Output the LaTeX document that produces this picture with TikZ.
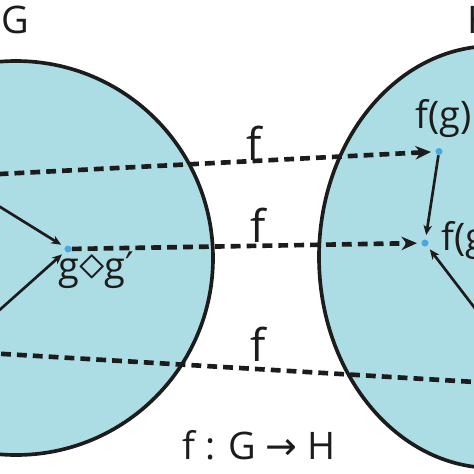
\documentclass[tikz,border=0pt]{standalone}
\usepackage{fontspec}
\setmainfont{Open Sans}
\newfontfamily\dejavu{DejaVu Sans}
\usetikzlibrary{arrows.meta}
\definecolor{diskblue}{HTML}{ACDDE4}
\definecolor{dotblue}{HTML}{4BA8DE}
\definecolor{inkgray}{HTML}{1C1C1C}
\newcommand{\maparrowstyle}{-{Stealth[length=11pt,width=9.5pt,inset=3.5pt]}}
\newcommand{\oparrowstyle}{-{Stealth[length=7pt,width=6pt,inset=2pt]}}
\newcommand{\opsym}{\scalebox{1.45}{$\diamond$}}

\begin{document}
\begin{tikzpicture}[
    x=0.025cm, y=-0.025cm,
    font=\fontsize{27}{30}\selectfont, text=inkgray,
    disk/.style={draw=inkgray, line width=2.6pt, fill=diskblue},
    fmap/.style={\maparrowstyle, draw=inkgray, line width=3.3pt, dash pattern=on 7pt off 4.3pt, shorten >=3pt},
    op/.style={\oparrowstyle, draw=inkgray, line width=1.9pt, shorten >=3pt},
    dot/.style={circle, fill=dotblue, inner sep=0pt, minimum size=5pt},
    txt/.style={inner sep=0pt},
    flabel/.style={font=\fontsize{32}{36}\selectfont, anchor=base, inner sep=0pt}
]
  \useasboundingbox (0,0) rectangle (474,474);
  \clip (0,0) rectangle (474,474);

  % the two sets
  \draw[disk] (16,258) circle[radius=197];
  \draw[disk] (493,257) ellipse[x radius=174, y radius=211];

  % elements (some lie outside the frame)
  \coordinate (pt-g) at (-49,176.5);
  \coordinate (pt-gp) at (-46.5,351);
  \coordinate (pt-fgp) at (534,385.5);
  \node[dot] (pt-gg) at (68,249) {};
  \node[dot] (pt-fg) at (439,151.5) {};
  \node[dot] (pt-fgg) at (425,243) {};

  % the map f
  \draw[fmap] (pt-g) -- (pt-fg);
  \draw[fmap] (pt-gg) -- (pt-fgg);
  \draw[fmap] (pt-gp) -- (pt-fgp);

  % the operation in G and in H
  \draw[op] (pt-g) -- (pt-gg);
  \draw[op] (pt-gp) -- (pt-gg);
  \draw[op] (pt-fg) -- (pt-fgg);
  \draw[op] (pt-fgp) -- (pt-fgg);

  \node[flabel] (lbl-f1) at (254,160) {f};
  \node[flabel] (lbl-f2) at (258,242) {f};
  \node[flabel] (lbl-f3) at (258,361) {f};

  \node[txt, anchor=base west] (lbl-G) at (1,33) {G};
  \node[txt, anchor=base west] (lbl-H) at (467,33) {H};
  \node[txt, anchor=base west] (lbl-gg) at (58,279) {g\opsym g{\dejavu ′}};
  \node[txt, anchor=base west] (lbl-fg) at (415,128) {f(g)};
  \node[txt, anchor=base west] (lbl-fgg) at (441,250) {f(g\opsym g{\dejavu ′})};
  \node[txt, anchor=base] (lbl-map) at (259,459) {f : G {\dejavu →} H};
\end{tikzpicture}
\end{document}
